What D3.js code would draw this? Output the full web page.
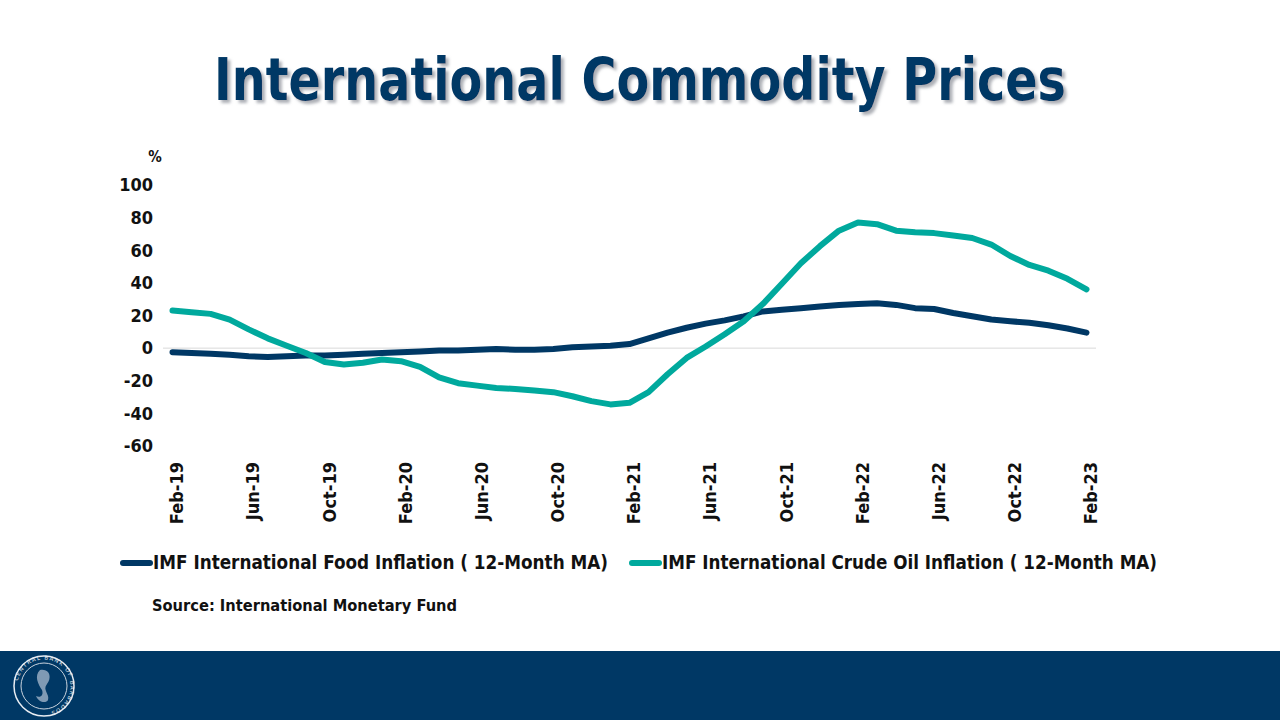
<!DOCTYPE html>
<html>
<head>
<meta charset="utf-8">
<script src="https://cdn.jsdelivr.net/npm/d3@7"></script>
<style>
  body { margin: 0; background: #ffffff; }
  svg { display: block; }
</style>
</head>
<body>
<svg id="chart" width="1280" height="720"></svg>
<script>
// months Feb-19 .. Feb-23
let monthNames = ["Jan","Feb","Mar","Apr","May","Jun","Jul","Aug","Sep","Oct","Nov","Dec"]
let months = []
for (let i = 0; i < 49; i++) {
  let m = (1 + i) % 12
  let y = 19 + Math.floor((1 + i) / 12)
  months.push(monthNames[m] + "-" + y)
}

let tickLabels = ["Feb-19","Jun-19","Oct-19","Feb-20","Jun-20","Oct-20","Feb-21","Jun-21","Oct-21","Feb-22","Jun-22","Oct-22","Feb-23"]

let foodInflation = [
  -2.5, -3, -3.5, -4, -5, -5.5, -5, -4.5, -4.5, -4, -3.5, -3,
  -2.5, -2, -1.5, -1.5, -1, -0.5, -1, -1, -0.5, 0.5, 1, 1.5,
  2.5, 6, 9.5, 12.5, 15, 17, 19.5, 22.5, 23.5, 24.5, 25.5, 26.5,
  27, 27.5, 26.5, 24.5, 24, 21.5, 19.5, 17.5, 16.5, 15.5, 14, 12,
  9.5
]

let oilInflation = [
  23, 22, 21, 17.5, 11.5, 6, 1.5, -3, -8.5, -10, -9, -7,
  -8, -11.5, -18, -21.5, -23, -24.5, -25, -26, -27, -29.5, -32.5, -34.5,
  -33.5, -27, -16, -6, 1, 8.5, 16.5, 27, 39.5, 52, 62.5, 72,
  77, 76, 72, 71, 70.5, 69, 67.5, 63.5, 56.5, 51, 47.5, 42.5,
  36
]

let yTicks = [100, 80, 60, 40, 20, 0, -20, -40, -60]

let seriesNames = ["IMF International Food Inflation ( 12-Month MA)", "IMF International Crude Oil Inflation ( 12-Month MA)"]

let navyColor = "#003865"
let tealColor = "#00a99d"
let textColor = "#111111"
let condensed = "'DejaVu Sans Condensed', 'Liberation Sans Narrow', sans-serif"

let svg = d3.select("#chart")

// soft shadow for the title
let filter = svg.append("defs").append("filter")
  .attr("id", "titleShadow")
  .attr("x", "-5%").attr("y", "-20%")
  .attr("width", "110%").attr("height", "150%")
filter.append("feDropShadow")
  .attr("dx", 3)
  .attr("dy", 3)
  .attr("stdDeviation", 1.5)
  .attr("flood-color", "#8a8f98")
  .attr("flood-opacity", 0.7)

svg.append("text")
  .attr("x", 214)
  .attr("y", 100)
  .attr("textLength", 852)
  .attr("lengthAdjust", "spacingAndGlyphs")
  .attr("filter", "url(#titleShadow)")
  .text("International Commodity Prices")
  .style("font-family", condensed)
  .style("font-weight", "bold")
  .style("font-size", "59px")
  .style("fill", navyColor)

let x = d3.scalePoint()
  .domain(months)
  .range([163, 1096])
  .padding(0.5)

let y = d3.scaleLinear()
  .domain([-60, 100])
  .range([446, 185])

// zero line
svg.append("line")
  .attr("x1", 163)
  .attr("x2", 1096)
  .attr("y1", y(0))
  .attr("y2", y(0))
  .style("stroke", "#d9d9d9")
  .style("stroke-width", 1)

// y axis labels
let yAxis = svg.append("g")
  .attr("transform", "translate(153, 0)")
  .call(d3.axisLeft(y).tickValues(yTicks).tickSize(0).tickPadding(0)
    .tickFormat(function (d) { return String(d) }))
yAxis.select(".domain").remove()
yAxis.selectAll("text")
  .style("font-family", condensed)
  .style("font-weight", "bold")
  .style("font-size", "18px")
  .style("fill", textColor)

svg.append("text")
  .attr("x", 155)
  .attr("y", 162)
  .text("%")
  .style("font-family", condensed)
  .style("font-weight", "bold")
  .style("font-size", "15px")
  .style("text-anchor", "middle")
  .style("fill", textColor)

// x axis labels, rotated
let xAxis = svg.append("g")
  .attr("transform", "translate(4, 462)")
  .call(d3.axisBottom(x).tickValues(tickLabels).tickSize(0).tickPadding(0))
xAxis.select(".domain").remove()
xAxis.selectAll("text")
  .attr("transform", "rotate(-90)")
  .attr("x", 0)
  .attr("y", 0)
  .attr("dy", "0.35em")
  .style("text-anchor", "end")
  .style("font-family", condensed)
  .style("font-weight", "bold")
  .style("font-size", "18px")
  .style("fill", textColor)

let line = d3.line()
  .x(function (d, i) { return x(months[i]) })
  .y(function (d) { return y(d) })

svg.append("path")
  .datum(foodInflation)
  .attr("d", line)
  .style("fill", "none")
  .style("stroke", navyColor)
  .style("stroke-width", 6)
  .style("stroke-linejoin", "round")
  .style("stroke-linecap", "round")

svg.append("path")
  .datum(oilInflation)
  .attr("d", line)
  .style("fill", "none")
  .style("stroke", tealColor)
  .style("stroke-width", 6)
  .style("stroke-linejoin", "round")
  .style("stroke-linecap", "round")

// legend
let legendColors = [navyColor, tealColor]
let legendX = [123, 632]
let legendLen = [455, 495]
let legend = svg.append("g")
  .selectAll("g")
  .data(seriesNames)
  .enter()
  .append("g")
legend.append("line")
  .attr("x1", function (d, i) { return legendX[i] })
  .attr("x2", function (d, i) { return legendX[i] + 27 })
  .attr("y1", 563)
  .attr("y2", 563)
  .style("stroke", function (d, i) { return legendColors[i] })
  .style("stroke-width", 6)
  .style("stroke-linecap", "round")
legend.append("text")
  .attr("x", function (d, i) { return legendX[i] + 30 })
  .attr("y", 569)
  .attr("textLength", function (d, i) { return legendLen[i] })
  .attr("lengthAdjust", "spacingAndGlyphs")
  .text(function (d) { return d })
  .style("font-family", condensed)
  .style("font-weight", "bold")
  .style("font-size", "19px")
  .style("fill", textColor)

svg.append("text")
  .attr("x", 152)
  .attr("y", 611)
  .attr("textLength", 305)
  .attr("lengthAdjust", "spacingAndGlyphs")
  .text("Source: International Monetary Fund")
  .style("font-family", condensed)
  .style("font-weight", "bold")
  .style("font-size", "16px")
  .style("fill", textColor)

// footer band + seal
svg.append("rect")
  .attr("x", 0)
  .attr("y", 651)
  .attr("width", 1280)
  .attr("height", 69)
  .style("fill", navyColor)

let seal = svg.append("g").attr("transform", "translate(44, 686)")
seal.append("circle")
  .attr("r", 30)
  .style("fill", "none")
  .style("stroke", "#e8edf3")
  .style("stroke-width", 1.5)
seal.append("circle")
  .attr("r", 23)
  .style("fill", "none")
  .style("stroke", "#c9d3de")
  .style("stroke-width", 1)
seal.append("path")
  .attr("id", "sealArc")
  .attr("d", "M -26.5 0 A 26.5 26.5 0 1 1 26.5 0 A 26.5 26.5 0 1 1 -26.5 0")
  .style("fill", "none")
seal.append("text")
  .append("textPath")
  .attr("href", "#sealArc")
  .attr("startOffset", "3%")
  .text("CENTRAL BANK OF BARBADOS")
  .style("font-family", "'DejaVu Sans', sans-serif")
  .style("font-size", "5.5px")
  .style("letter-spacing", "1.2px")
  .style("fill", "#e8edf3")
seal.append("path")
  .attr("d", "M -4 -16 C 6 -18 8 -8 3 -2 C -2 4 6 8 4 14 C 2 18 -6 16 -8 10 C -4 12 0 10 -2 4 C -6 -2 -10 -10 -4 -16 Z")
  .style("fill", "#9fb3c8")
  .style("opacity", 0.8)
</script>
</body>
</html>
